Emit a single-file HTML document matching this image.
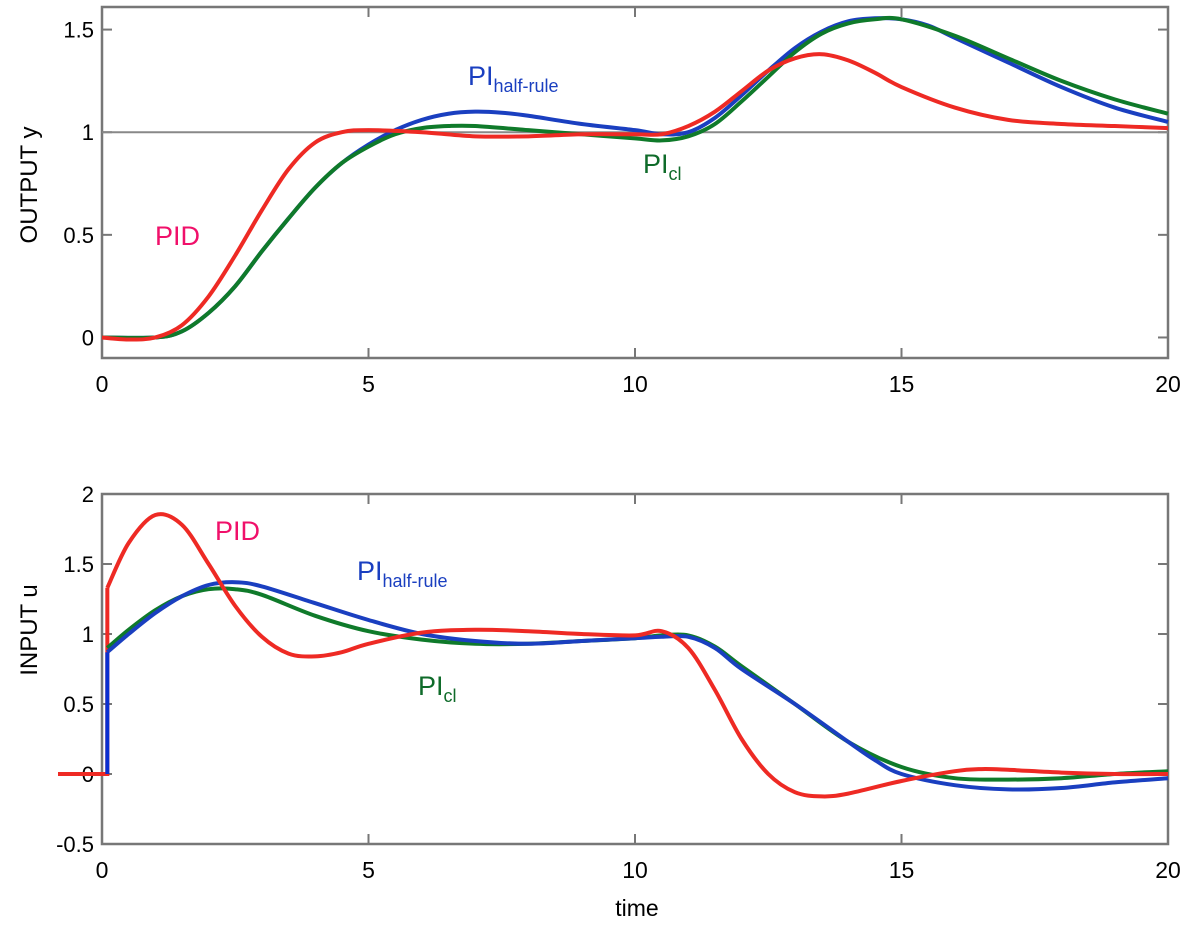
<!DOCTYPE html>
<html><head><meta charset="utf-8">
<style>
html,body{margin:0;padding:0;background:#fff;}
svg{display:block;font-family:"Liberation Sans",Arial,sans-serif;}
</style></head>
<body>
<svg id="chart" width="1188" height="928" viewBox="0 0 1188 928">
<g id="top"></g>
<g id="bot"></g>
</svg>
<script>
const tTopRed = [0,0.5,1,1.5,2,2.5,3,3.5,4,4.5,5,6,7,8,9,10,10.5,11,11.5,12,12.5,13,13.5,14,14.5,15,16,17,18,19,20];
const yTopRed = [0,-0.01,0,0.06,0.2,0.4,0.62,0.82,0.95,1.0,1.01,1.0,0.98,0.98,0.99,0.99,0.99,1.03,1.1,1.2,1.3,1.36,1.38,1.35,1.29,1.22,1.12,1.06,1.04,1.03,1.02];
const tTopBlue = [0,1,1.5,2,2.5,3,3.5,4,4.5,5,5.5,6,6.5,7,7.5,8,9,10,10.5,11,11.5,12,12.5,13,13.5,14,14.5,15,15.5,16,17,18,19,20];
const yTopBlue = [0,0,0.03,0.12,0.25,0.42,0.58,0.73,0.85,0.94,1.01,1.06,1.09,1.1,1.095,1.08,1.04,1.01,0.99,1.0,1.07,1.18,1.3,1.41,1.49,1.54,1.555,1.55,1.52,1.46,1.34,1.22,1.12,1.05];
const tTopGreen = [0,1,1.5,2,2.5,3,3.5,4,4.5,5,5.5,6,6.5,7,8,9,10,10.5,11,11.5,12,12.5,13,13.5,14,14.5,15,16,17,18,19,20];
const yTopGreen = [0,0,0.03,0.12,0.25,0.42,0.58,0.73,0.85,0.93,0.99,1.02,1.03,1.03,1.01,0.99,0.97,0.96,0.98,1.04,1.15,1.27,1.39,1.48,1.53,1.55,1.55,1.47,1.36,1.25,1.16,1.09];

const tBotRed = [0.1,0.5,1,1.5,2,2.5,3,3.5,4,4.5,5,6,7,8,9,10,10.5,11,11.5,12,12.5,13,13.5,14,15,16,16.5,17,18,19,20];
const yBotRed = [1.33,1.65,1.85,1.78,1.5,1.2,0.98,0.86,0.84,0.87,0.93,1.01,1.03,1.02,1.0,0.99,1.02,0.9,0.6,0.25,0.0,-0.13,-0.16,-0.14,-0.05,0.02,0.035,0.03,0.01,0.0,0.0];
const tBotBlue = [0.1,0.5,1,1.5,2,2.5,3,4,5,6,7,8,9,10,10.5,11,11.5,12,13,14,14.5,15,16,17,18,19,20];
const yBotBlue = [0.87,1.0,1.15,1.27,1.35,1.37,1.34,1.22,1.1,1.0,0.95,0.93,0.95,0.97,0.98,0.98,0.9,0.75,0.5,0.23,0.1,0.0,-0.08,-0.11,-0.1,-0.06,-0.03];
const tBotGreen = [0.1,0.5,1,1.5,2,2.5,3,4,5,6,7,8,9,10,10.5,11,11.5,12,13,14,15,16,17,18,19,20];
const yBotGreen = [0.9,1.03,1.17,1.27,1.32,1.32,1.28,1.13,1.02,0.96,0.93,0.93,0.95,0.97,0.99,0.99,0.91,0.77,0.5,0.23,0.05,-0.03,-0.04,-0.03,0.0,0.02];

const xTicks = [0,5,10,15,20];
const yTicksTop = [0,0.5,1,1.5];
const yTickLabelsTop = ["0","0.5","1","1.5"];
const yTicksBot = [-0.5,0,0.5,1,1.5,2];
const yTickLabelsBot = ["-0.5","0","0.5","1","1.5","2"];

const NS = "http://www.w3.org/2000/svg";
function mk(tag, attrs, parent){const e=document.createElementNS(NS,tag);for(const k in attrs)e.setAttribute(k,attrs[k]);parent.appendChild(e);return e;}

function panel(g, top, bottom, ymin, ymax, yTicks, yLabels, ylabel, ylabelY, namePrefix){
  const L=102,R=1168;
  const sx=t=>L+(t/20)*(R-L);
  const sy=v=>bottom-(v-ymin)/(ymax-ymin)*(bottom-top);
  const box=mk('rect',{x:L,y:top,width:R-L,height:bottom-top,fill:'none',stroke:'#777','stroke-width':2.5},g);
  
  
  yTicks.forEach((v,i)=>{
    const y=sy(v);
    const tk=mk('line',{x1:L,x2:L+10,y1:y,y2:y,stroke:'#777','stroke-width':2},g);
    
    
    const tk2=mk('line',{x1:R-10,x2:R,y1:y,y2:y,stroke:'#777','stroke-width':2},g);
    
    
    const tx=mk('text',{x:L-8,y:y+8,'text-anchor':'end','font-size':22,fill:'#000'},g);
    tx.textContent=yLabels[i];
    
    
  });
  xTicks.forEach(v=>{
    const x=sx(v);
    const tk=mk('line',{x1:x,x2:x,y1:bottom-10,y2:bottom,stroke:'#777','stroke-width':2},g);
    
    
    const tk2=mk('line',{x1:x,x2:x,y1:top,y2:top+10,stroke:'#777','stroke-width':2},g);
    
    
    const tx=mk('text',{x:x,y:bottom+34,'text-anchor':'middle','font-size':23,fill:'#000'},g);
    tx.textContent=String(v);
    
    
  });
  const yl=mk('text',{x:0,y:0,'text-anchor':'middle','font-size':24,fill:'#000',transform:`translate(37,${ylabelY}) rotate(-90)`},g);
  yl.textContent=ylabel;
  
  
  return {sx,sy};
}

function curve(g, ts, vs, sx, sy, color, name){
  const P=ts.map((t,i)=>[sx(t),sy(vs[i])]);
  let d=`M${P[0][0]},${P[0][1]}`;
  for(let i=0;i<P.length-1;i++){
    const p0=P[i-1]||P[i],p1=P[i],p2=P[i+1],p3=P[i+2]||P[i+1];
    const c1=[p1[0]+(p2[0]-p0[0])/6,p1[1]+(p2[1]-p0[1])/6];
    const c2=[p2[0]-(p3[0]-p1[0])/6,p2[1]-(p3[1]-p1[1])/6];
    d+=` C${c1[0]},${c1[1]} ${c2[0]},${c2[1]} ${p2[0]},${p2[1]}`;
  }
  const p=mk('path',{d,fill:'none',stroke:color,'stroke-width':4,'stroke-linejoin':'round'},g);
  
  
}

function label(g,x,y,main,sub,color,name){
  const t=mk('text',{x,y,'font-size':27,fill:color},g);
  
  
  t.appendChild(document.createTextNode(main));
  if(sub){const s=mk('tspan',{'font-size':18,dy:7},t);s.textContent=sub;}
}

const RED='#ee2a24',BLUE='#1a3fc0',GREEN='#0f7a2a';

const gt=document.getElementById('top');
const A=panel(gt,7,358,-0.1,1.61,yTicksTop,yTickLabelsTop,'OUTPUT y',185,'output');
const ref=mk('line',{x1:102,x2:1168,y1:A.sy(1),y2:A.sy(1),stroke:'#888','stroke-width':2},gt);


curve(gt,tTopBlue,yTopBlue,A.sx,A.sy,BLUE,'output-pi-half-rule-line');
curve(gt,tTopGreen,yTopGreen,A.sx,A.sy,GREEN,'output-pi-cl-line');
curve(gt,tTopRed,yTopRed,A.sx,A.sy,RED,'output-pid-line');
label(gt,155,245,'PID','','#f0106a','output-pid-label');
label(gt,468,85,'PI','half-rule','#1a3fc0','output-pi-half-rule-label');
label(gt,643,173,'PI','cl','#0f6b2a','output-pi-cl-label');

const gb=document.getElementById('bot');
const B=panel(gb,494,844,-0.5,2,yTicksBot,yTickLabelsBot,'INPUT u',630,'input');
const s1=mk('path',{d:`M58,${B.sy(0)} L${B.sx(0.1)},${B.sy(0)} L${B.sx(0.1)},${B.sy(yBotRed[0])}`,fill:'none',stroke:RED,'stroke-width':4},gb);


curve(gb,tBotGreen,yBotGreen,B.sx,B.sy,GREEN,'input-pi-cl-line');
curve(gb,tBotBlue,yBotBlue,B.sx,B.sy,BLUE,'input-pi-half-rule-line');
curve(gb,tBotRed,yBotRed,B.sx,B.sy,RED,'input-pid-line');
const s2=mk('line',{x1:B.sx(0.1),x2:B.sx(0.1),y1:B.sy(0),y2:B.sy(yBotBlue[0]),stroke:'#0a2fd0','stroke-width':4},gb);


label(gb,215,540,'PID','','#f0106a','input-pid-label');
label(gb,357,580,'PI','half-rule','#1a3fc0','input-pi-half-rule-label');
label(gb,418,695,'PI','cl','#0f6b2a','input-pi-cl-label');
const xt=mk('text',{x:637,y:916,'text-anchor':'middle','font-size':23,fill:'#000'},gb);
xt.textContent='time';


</script>
</body></html>
